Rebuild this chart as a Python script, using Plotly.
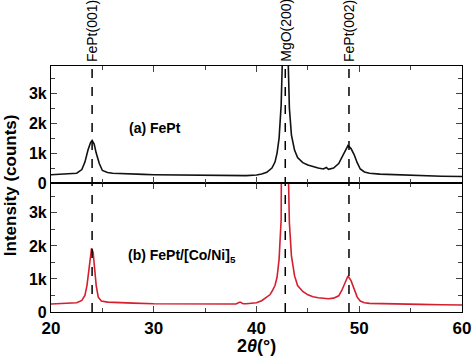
import plotly.graph_objects as go

# (a) FePt  -- 2theta (deg) and intensity (counts)
two_theta_a = [20, 21, 22, 22.5, 23, 23.3, 23.6, 23.85, 24.0, 24.2, 24.4, 24.7, 25.0, 25.5, 26, 27, 28, 29, 30,
               32, 34, 36, 38, 39, 40, 40.5, 41, 41.5, 41.8, 42.0, 42.2, 42.4, 42.55, 42.8, 43.05, 43.2, 43.4,
               43.7, 44.0, 44.5, 45, 45.5, 46, 46.5, 46.8, 47, 47.5, 48, 48.3, 48.6, 48.9, 49.2, 49.5, 49.8,
               50.1, 50.5, 51, 52, 54, 56, 58, 60]
counts_a = [280, 290, 300, 330, 450, 700, 1100, 1350, 1420, 1300, 1000, 650, 420, 350, 330, 310, 300, 290, 280,
            270, 260, 260, 250, 250, 270, 300, 360, 500, 700, 1000, 1500, 2600, 4500, 30000, 4500, 2500, 1600,
            1100, 850, 680, 600, 540, 500, 470, 520, 460, 500, 650, 850, 1100, 1250, 1150, 950, 680,
            470, 370, 330, 300, 270, 250, 230, 220]

# (b) FePt/[Co/Ni]5
two_theta_b = [20, 21, 22, 22.5, 23, 23.3, 23.5, 23.7, 23.85, 23.95, 24.1, 24.25, 24.4, 24.6, 24.9, 25.5, 26, 28,
               30, 32, 34, 36, 37, 38, 38.4, 38.7, 39, 40, 40.5, 41, 41.3, 41.5, 41.8, 42.0, 42.2, 42.4, 42.55,
               42.8, 43.05, 43.2, 43.4, 43.7, 44.0, 44.5, 45, 45.5, 46, 47, 47.5, 48, 48.3, 48.6, 48.9, 49.2,
               49.5, 49.8, 50.1, 50.5, 51, 52, 54, 56, 58, 60]
counts_b = [240, 250, 260, 280, 350, 500, 800, 1400, 1800, 1930, 1800, 1300, 800, 450, 330, 300, 290, 270,
            250, 250, 240, 230, 240, 240, 300, 250, 250, 280, 340, 450, 520, 620, 800, 1050, 1600, 2800, 5000,
            30000, 5000, 2700, 1700, 1100, 800, 620, 520, 460, 430, 400, 420, 490, 650, 900, 1090, 950,
            700, 450, 330, 280, 260, 250, 240, 230, 220, 210]

peak_positions = [24.0, 42.8, 49.0]
peak_labels = ["FePt(001)", "MgO(200)", "FePt(002)"]
y_tick_vals = [0, 1000, 2000, 3000]
y_tick_text = ["0", "1k", "2k", "3k"]
x_tick_vals = [20, 30, 40, 50, 60]

FONT = "Liberation Sans, Arial, sans-serif"
split = 0.524

fig = go.Figure()
fig.add_trace(go.Scatter(x=two_theta_a, y=counts_a, mode="lines",
                         line=dict(color="#111111", width=1.6), xaxis="x2", yaxis="y2", showlegend=False))
fig.add_trace(go.Scatter(x=two_theta_b, y=counts_b, mode="lines",
                         line=dict(color="#d41f2e", width=1.6), xaxis="x", yaxis="y", showlegend=False))

common_x = dict(range=[20, 60], tickvals=x_tick_vals, ticks="inside", ticklen=6, tickwidth=1.2,
                minor=dict(dtick=5, tick0=20, ticks="inside", ticklen=4, tickwidth=1.2),
                showline=True, linecolor="black", linewidth=1.2, mirror="allticks", showgrid=False,
                zeroline=False, automargin=False,
                tickfont=dict(family=FONT, size=17, color="black", weight="bold"))
common_y = dict(range=[0, 3900], tickvals=y_tick_vals, ticktext=y_tick_text, ticks="inside", ticklen=6,
                tickwidth=1.2, minor=dict(dtick=500, tick0=0, ticks="inside", ticklen=4, tickwidth=1.2),
                showline=True, linecolor="black", linewidth=1.2, mirror="allticks", showgrid=False,
                zeroline=False, automargin=False,
                tickfont=dict(family=FONT, size=16, color="black", weight="bold"))

shapes = []
for p in peak_positions:
    shapes.append(dict(type="line", xref="x", yref="paper", x0=p, x1=p, y0=0, y1=1,
                       line=dict(color="black", width=1.5, dash="dash")))

annotations = []
for p, lab in zip(peak_positions, peak_labels):
    annotations.append(dict(x=p, y=1, xref="x", yref="paper", text=lab, showarrow=False, textangle=-90,
                            xanchor="center", yanchor="bottom", yshift=2,
                            font=dict(family=FONT, size=14, color="black")))
annotations += [
    dict(x=27.4, y=1830, xref="x2", yref="y2", text="(a) FePt", showarrow=False, xanchor="left",
         font=dict(family=FONT, size=14, color="black", weight="bold")),
    dict(x=27.3, y=1700, xref="x", yref="y", text="(b) FePt/[Co/Ni]<sub>5</sub>", showarrow=False,
         xanchor="left", font=dict(family=FONT, size=14, color="black", weight="bold")),
    dict(x=-0.1, y=0.515, xref="paper", yref="paper", text="Intensity (counts)", showarrow=False,
         textangle=-90, xanchor="center", yanchor="middle",
         font=dict(family=FONT, size=17, color="black", weight="bold")),
    dict(x=0.5, y=-0.09, xref="paper", yref="paper", text="2<i>θ</i>(°)", showarrow=False,
         xanchor="center", yanchor="top", font=dict(family=FONT, size=18, color="black", weight="bold")),
]

fig.update_layout(
    width=474, height=357, autosize=False,
    margin=dict(l=51, r=12, t=66, b=45, pad=0, autoexpand=False),
    paper_bgcolor="white", plot_bgcolor="white",
    xaxis=dict(**common_x, anchor="y", domain=[0, 1]),
    xaxis2=dict(**common_x, anchor="y2", matches="x", showticklabels=False),
    yaxis=dict(**common_y, domain=[0, split], anchor="x"),
    yaxis2=dict(**common_y, domain=[split, 1], anchor="x2"),
    shapes=shapes, annotations=annotations,
)

fig.write_html("out.html", config={"displayModeBar": False},
               post_script="document.body.style.margin='0';document.body.style.padding='0';")
